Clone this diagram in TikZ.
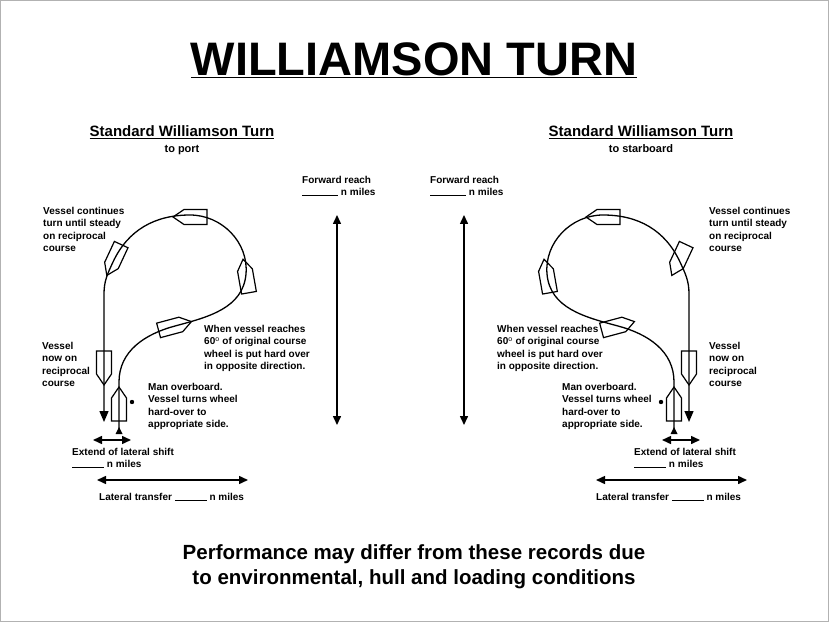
\documentclass[tikz,border=0pt]{standalone}
\usepackage{fontspec}
\setmainfont{Liberation Sans}
\usetikzlibrary{arrows.meta,positioning}

\begin{document}
\begin{tikzpicture}[x=1pt,y=1pt,
	note/.style = {anchor=north west, align=left, font=\fontsize{10}{12.4}\selectfont\bfseries, inner sep=0pt},
	sub/.style  = {font=\fontsize{15}{16}\selectfont\bfseries, inner sep=0pt},
	track/.style = {line width=1.3pt},
	dim/.style  = {line width=1.5pt, {Triangle[length=9pt,width=8pt]}-{Triangle[length=9pt,width=8pt]}},
	ship/.pic = {\draw[line width=1.2pt] (-17,-7.5) -- (6,-7.5) -- (17,0) -- (6,7.5) -- (-17,7.5) -- cycle;},
	>=Triangle]

	\useasboundingbox (0,0) rectangle (829,622);
	\draw[gray!60, line width=1pt] (0.5,0.5) rectangle (828.5,621.5);

	% titles
	\node[font=\fontsize{47}{50}\selectfont\bfseries] (title) at (414,562) {\underline{WILLIAMSON TURN}};
	\node[sub] (subL) at (182,490) {\underline{Standard Williamson Turn}};
	\node[sub, font=\fontsize{11}{12}\selectfont\bfseries, below=6pt of subL] (portL) {to port};
	\node[sub] (subR) at (641,490) {\underline{Standard Williamson Turn}};
	\node[sub, font=\fontsize{11}{12}\selectfont\bfseries, below=6pt of subR] (stbR) {to starboard};

	% forward reach
	\node[note] (fwdL) at (302,446) {Forward reach\\\rule{36pt}{0.5pt} n miles};
	\node[note] (fwdR) at (430,446) {Forward reach\\\rule{36pt}{0.5pt} n miles};
	\coordinate (fL1) at (337,407); \coordinate (fL2) at (337,197);
	\coordinate (fR1) at (464,407); \coordinate (fR2) at (464,197);
	\draw[dim] (fL1) -- (fL2);
	\draw[dim] (fR1) -- (fR2);

	% both turns, the second one mirrored
	\foreach \side/\flip in {L/1,R/-1}{
	\begin{scope}[shift={(\ifnum\flip=1 0\else 793\fi,0)}, xscale=\flip]
		\coordinate (start\side) at (119,192);
		\coordinate (end\side) at (104,200);
		\draw[track, -{Triangle[length=11pt,width=9pt]}] (start\side) -- (119,240)
			to[out=90,in=195] (175,296) to[out=15,in=265] (246,348)
			to[out=85,in=0] (190,407) to[out=180,in=65] (113,360)
			to[out=245,in=90] (104,328) -- (end\side);
		\fill (start\side) ++(0,3) -- ++(-3.5,-7) -- ++(7,0) -- cycle;
		\fill (132,220) circle (2.2pt);
		\pic[rotate=90]  at (119,218) {ship};
		\pic[rotate=15]  at (175,296) {ship};
		\pic[rotate=100] at (246,346) {ship};
		\pic[rotate=180] at (190,405) {ship};
		\pic[rotate=245] at (114,362) {ship};
		\pic[rotate=270] at (104,254) {ship};
	\end{scope}
	}

	% lateral shift and transfer
	\coordinate (sL1) at (93,182);  \coordinate (sL2) at (131,182);
	\coordinate (sR1) at (662,182); \coordinate (sR2) at (700,182);
	\coordinate (tL1) at (97,142);  \coordinate (tL2) at (248,142);
	\coordinate (tR1) at (596,142); \coordinate (tR2) at (747,142);
	\draw[dim] (sL1) -- (sL2);
	\draw[dim] (sR1) -- (sR2);
	\draw[dim] (tL1) -- (tL2);
	\draw[dim] (tR1) -- (tR2);
	\node[note] (shiftL) at (72,174) {Extend of lateral shift\\\rule{32pt}{0.5pt} n miles};
	\node[note] (shiftR) at (634,174) {Extend of lateral shift\\\rule{32pt}{0.5pt} n miles};
	\node[note] (transL) at (99,129) {Lateral transfer \rule{32pt}{0.5pt} n miles};
	\node[note] (transR) at (596,129) {Lateral transfer \rule{32pt}{0.5pt} n miles};

	% notes, port side
	\node[note] (contL) at (43,415) {Vessel continues\\turn until steady\\on reciprocal\\course};
	\node[note] (recL)  at (42,280) {Vessel\\now on\\reciprocal\\course};
	\node[note] (sixtyL) at (204,297) {When vessel reaches\\60$^{\mathrm{o}}$ of original course\\wheel is put hard over\\in opposite direction.};
	\node[note] (mobL)  at (148,239) {Man overboard.\\Vessel turns wheel\\hard-over to\\appropriate side.};

	% notes, starboard side
	\node[note] (contR) at (709,415) {Vessel continues\\turn until steady\\on reciprocal\\course};
	\node[note] (recR)  at (709,280) {Vessel\\now on\\reciprocal\\course};
	\node[note] (sixtyR) at (497,297) {When vessel reaches\\60$^{\mathrm{o}}$ of original course\\wheel is put hard over\\in opposite direction.};
	\node[note] (mobR)  at (562,239) {Man overboard.\\Vessel turns wheel\\hard-over to\\appropriate side.};

	% footer
	\node[font=\fontsize{20.5}{25}\selectfont\bfseries, align=center] (perf) at (414,55)
		{Performance may differ from these records due\\to environmental, hull and loading conditions};
\end{tikzpicture}
\end{document}
